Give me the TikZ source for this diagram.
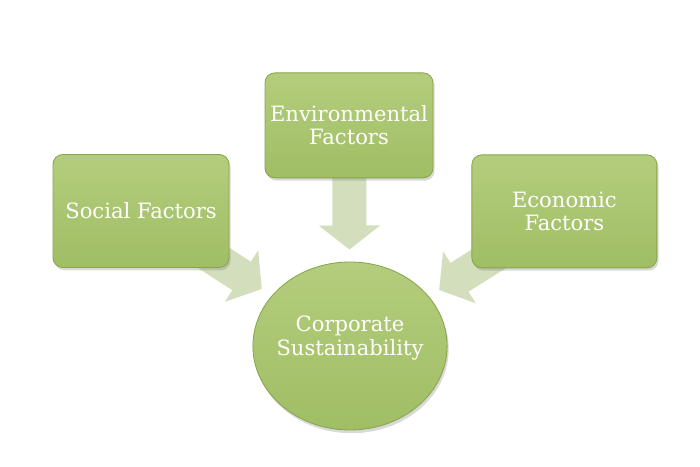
\documentclass[tikz,border=0pt]{standalone}
\usepackage{fontspec}
\setmainfont{DejaVu Serif}
\usepackage{xcolor}
\usepackage{tikz}
\usetikzlibrary{shapes.geometric, arrows.meta, shadows}
\definecolor{SusGreen}{RGB}{160,190,100}
\definecolor{SusLight}{RGB}{180,205,125}
\definecolor{SusPale}{RGB}{210,222,188}
\definecolor{SusEdge}{RGB}{135,165,80}
\pgfdeclarelayer{bg}
\pgfsetlayers{bg,main}

\begin{document}
\begin{tikzpicture}[
          fx/.style={rectangle, rounded corners=7pt, minimum width=4.4cm,
                     minimum height=2.825cm, align=center, text=white,
                     font=\fontsize{15}{16.5}\selectfont,
                     top color=SusLight, bottom color=SusGreen,
                     draw=SusEdge, line width=0.6pt,
                     drop shadow={opacity=0.3, shadow xshift=0.04cm,
                                  shadow yshift=-0.07cm}},
          hub/.style={ellipse, minimum width=4.85cm, minimum height=4.2cm,
                      inner xsep=-0.12cm, inner ysep=0pt, align=center,
                      text=white, font=\fontsize{15}{16.5}\selectfont,
                      top color=SusLight, bottom color=SusGreen,
                      draw=SusEdge, line width=0.6pt,
                      drop shadow={opacity=0.3, shadow xshift=0.04cm,
                                   shadow yshift=-0.08cm}},
          flow/.style={draw=SusPale, line width=0.85cm,
                       -{Triangle[length=0.6cm, width=1.5cm]},
                       shorten >=0.3cm}
        ]
        \useasboundingbox (0,0) rectangle (17.5,11.675);

        \node[fx] (soc) at (3.525, 6.4) {Social Factors};

        \node[fx, minimum width=4.2cm, minimum height=2.625cm]
              (env) at (8.725, 8.54) {Environmental\\Factors};

        \node[fx, minimum width=4.625cm]
              (eco) at (14.11, 6.39) {Economic\\Factors};

        \node[hub, text depth=0.52cm] (corp) at (8.75, 3.025)
              {Corporate\\Sustainability};

        \begin{pgfonlayer}{bg}
          \draw[flow] (soc.center) -- (corp);
          \draw[flow] (env.center) -- (corp);
          \draw[flow] (eco.center) -- (corp);
        \end{pgfonlayer}
      \end{tikzpicture}
\end{document}
